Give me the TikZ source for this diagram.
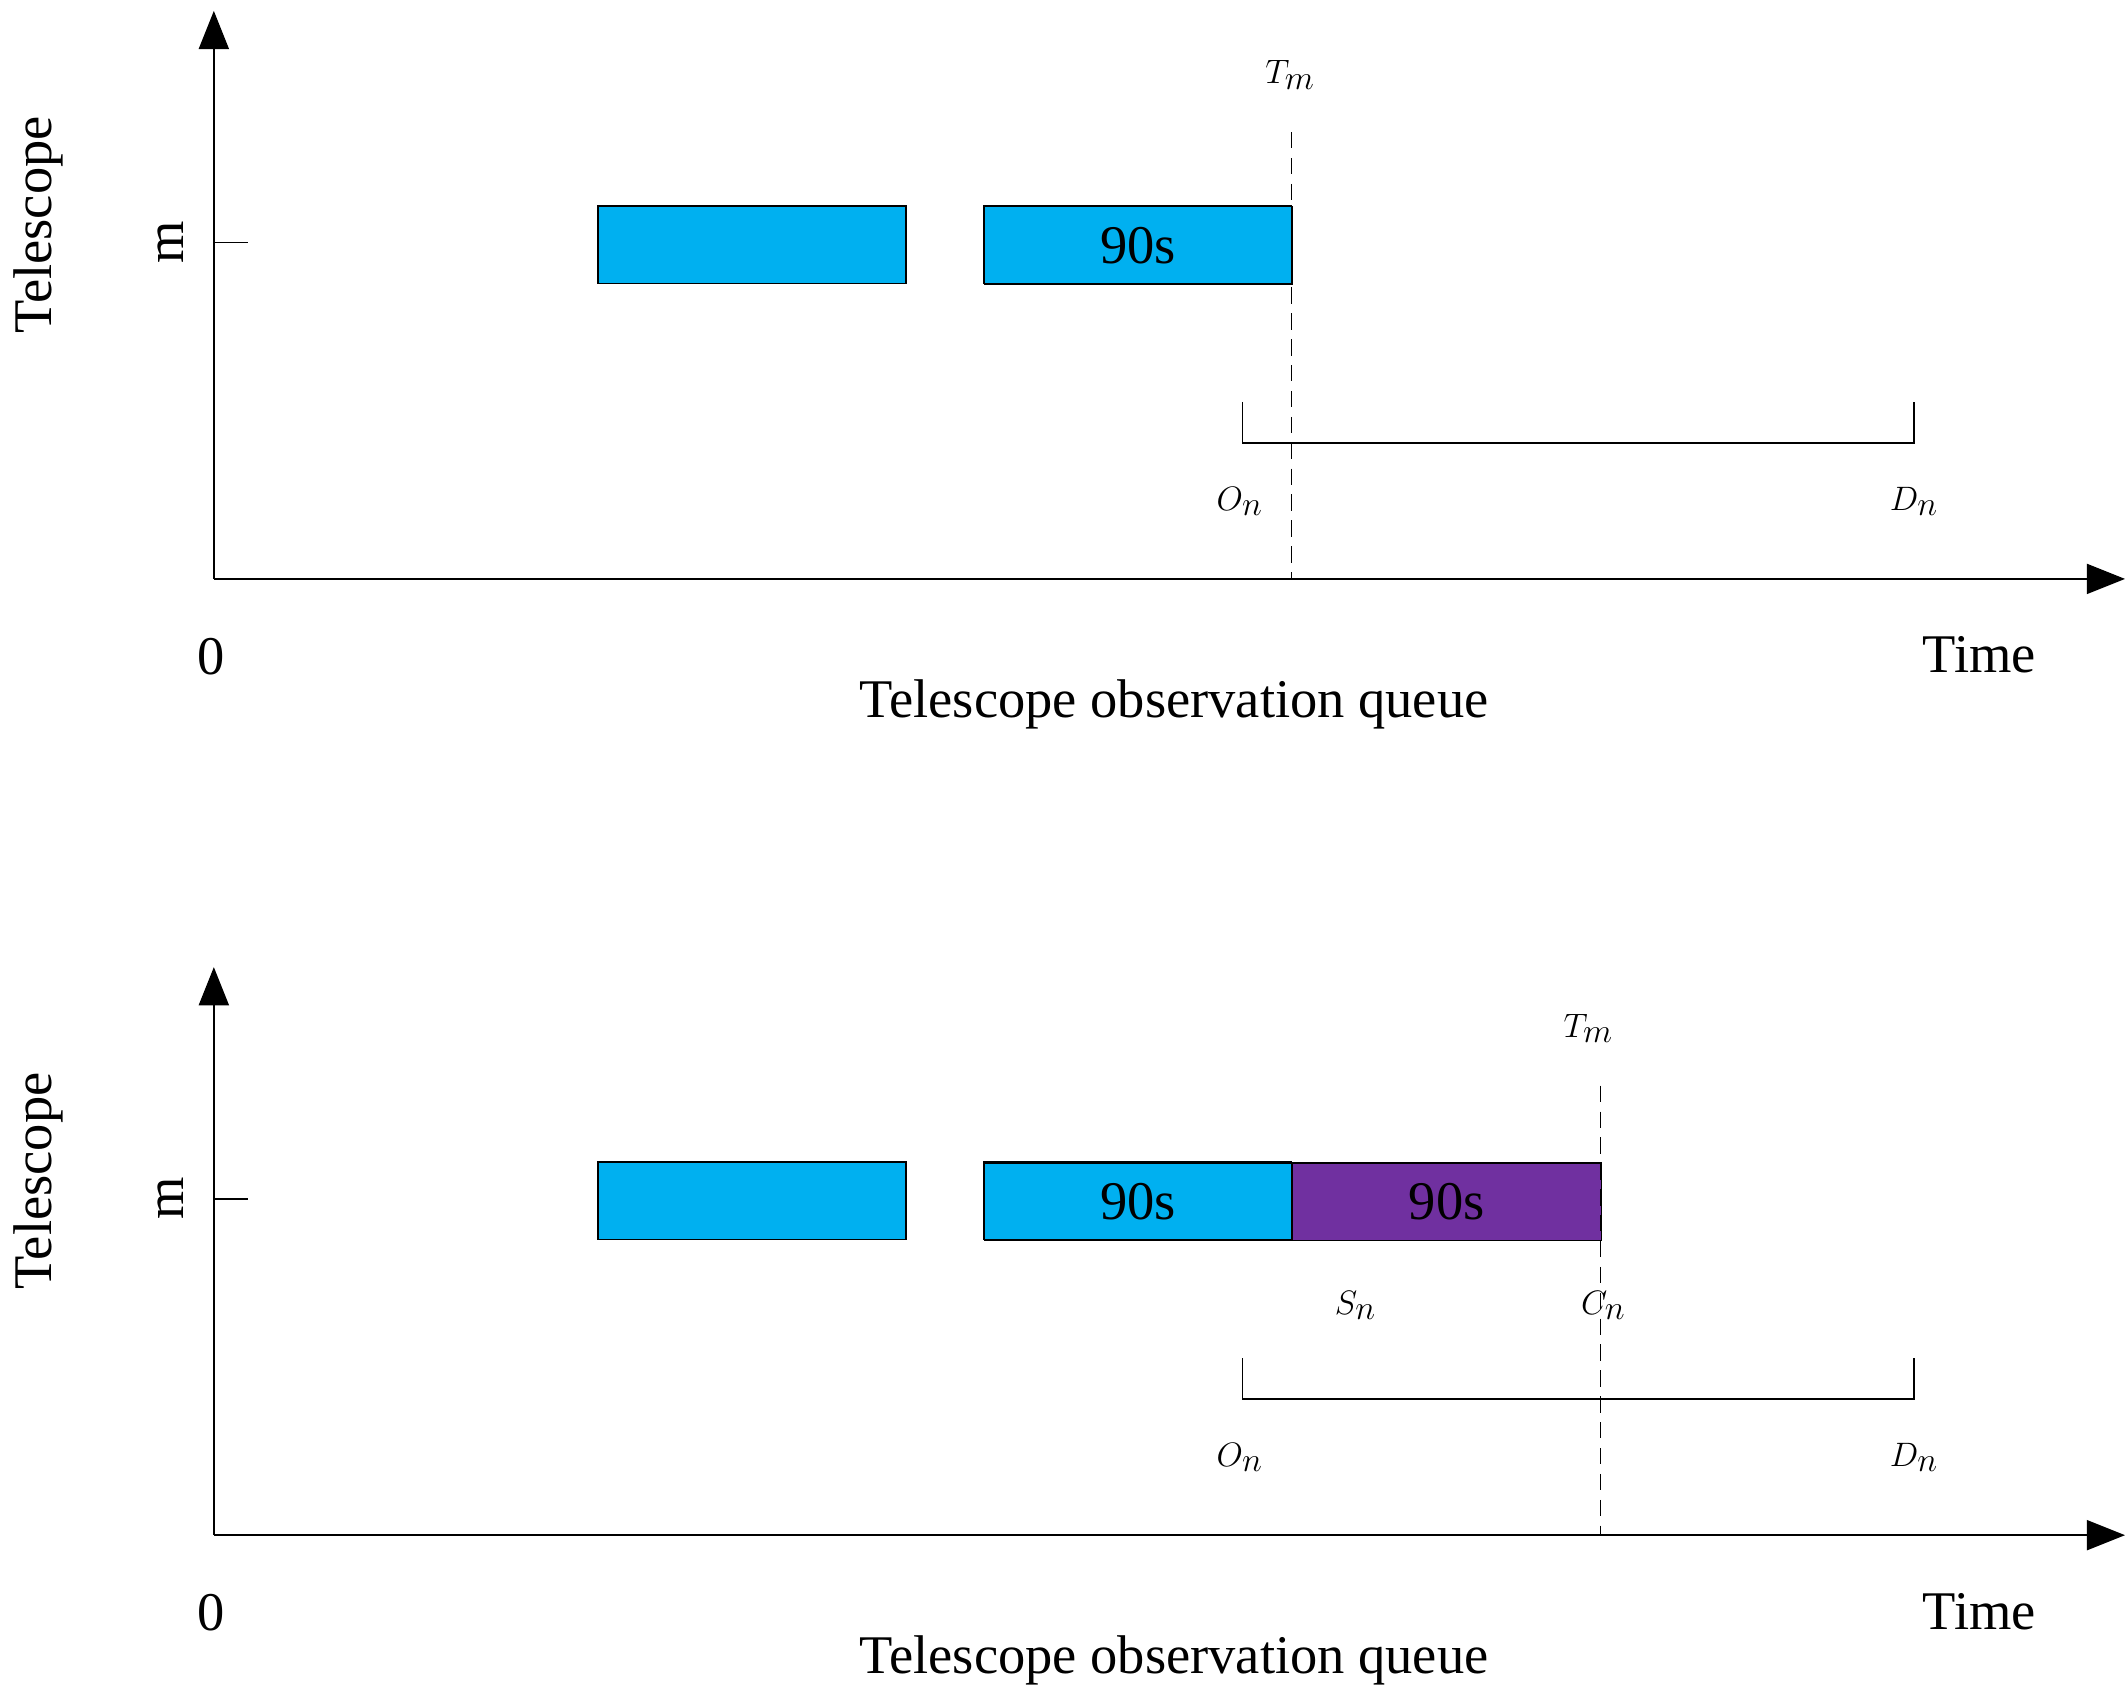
\documentclass[tikz,border=0pt]{standalone}
\usepackage{fontspec}
\setmainfont{Liberation Serif}
\usetikzlibrary{arrows.meta}
\definecolor{cblue}{HTML}{00B0F0}
\definecolor{cpurp}{HTML}{7030A0}
\begin{document}
\begin{tikzpicture}[x=1pt,y=-1pt,line width=1.4pt,
  ax/.style={-{Triangle[length=28pt,width=22pt]}},
  bar/.style={draw=black,line width=1.2pt},
  txt/.style={font=\fontsize{40}{48}\selectfont,inner sep=0pt},
  dash line/.style={dashed,dash pattern=on 12pt off 7pt,line width=1.2pt}]
\useasboundingbox (0,0) rectangle (1560,1246);
\foreach \o/\p in {0/a,702/b}{
  \coordinate (\p O) at (157,425+\o);
  \coordinate (\p Y) at (157,8+\o);
  \coordinate (\p X) at (1560,425+\o);
  \draw[ax] (\p O) -- (\p Y);
  \draw[ax] (\p O) -- (\p X);
  \coordinate (\p t1) at (157,178+\o); \coordinate (\p t2) at (182,178+\o);
  \draw (\p t1) -- (\p t2);
  \node[txt,rotate=90] (\p m) at (125,178+\o) {m};
  \node[txt,rotate=90] (\p tel) at (28,165+\o) {Telescope};
  \node[txt] (\p zero) at (155,482+\o) {0};
  \node[txt] (\p time) at (1453,481+\o) {Time};
  \node[txt] (\p cap) at (862,517+\o) {Telescope observation queue};
  \coordinate (\p b1) at (912,295+\o); \coordinate (\p b2) at (912,325+\o);
  \coordinate (\p b3) at (1405,325+\o); \coordinate (\p b4) at (1405,295+\o);
  \draw[line width=1.2pt] (\p b1) -- (\p b2) -- (\p b3) -- (\p b4);
  \node[txt] (\p On) at (910,368+\o) {$O_n$};
  \node[txt] (\p Dn) at (1405,368+\o) {$D_n$};
  \path[bar,fill=cblue] (439,151+\o) rectangle (665,208+\o);
  \node[bar,fill=cblue,minimum width=226pt,minimum height=57pt,inner sep=0pt,anchor=north west,txt] (\p q) at (722,151+\o) {90s};
}
\draw[bar] (722,151) rectangle (948,208);
\draw[bar] (722,853) rectangle (948,910);
\coordinate (d1) at (948,97); \coordinate (d2) at (948,425);
\draw[dash line] (d1) -- (d2);
\node[txt] (Tm1) at (947,55) {$T_m$};
\node[bar,fill=cpurp,minimum width=227pt,minimum height=57pt,inner sep=0pt,anchor=north west,txt] (pq) at (948,853) {90s};
\coordinate (e1) at (1175,797); \coordinate (e2) at (1175,1127);
\draw[dash line] (e1) -- (e2);
\node[txt] (Tm2) at (1166,755) {$T_m$};
\node[txt] (Sn) at (995,958) {$S_n$};
\node[txt] (Cn) at (1177,958) {$C_n$};
\end{tikzpicture}
\end{document}
